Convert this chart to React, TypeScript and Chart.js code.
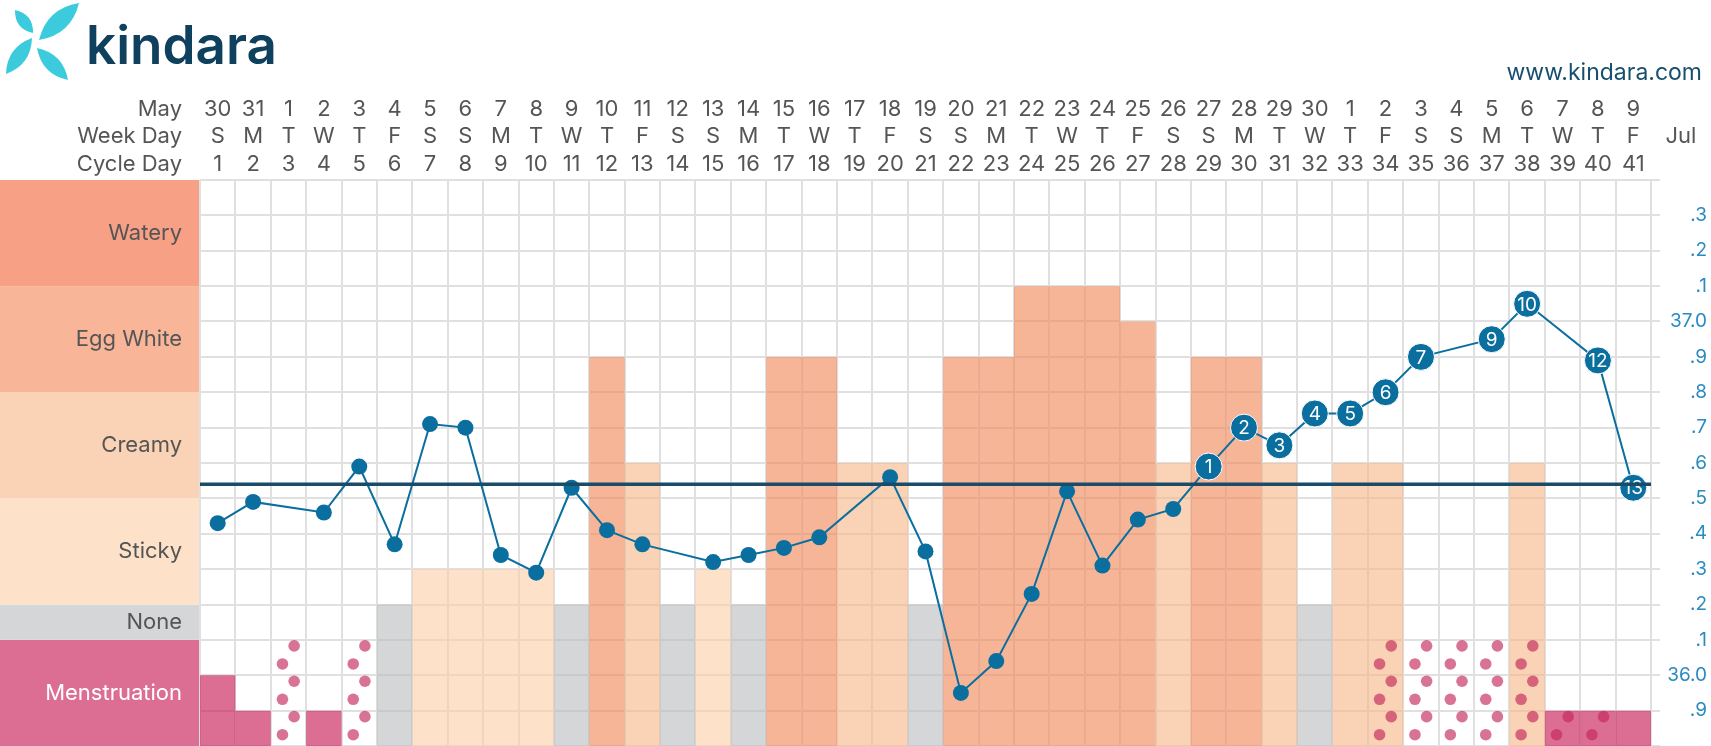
import React, { useEffect, useRef } from 'react';
import { Chart, registerables } from 'chart.js';

Chart.register(...registerables);

// ---------- data ----------
const monthLabel = 'May';
const nextMonthLabel = 'Jul';
const rowTitles = ['Week Day', 'Cycle Day'];

const dates = ['30','31','1','2','3','4','5','6','7','8','9','10','11','12','13','14','15','16','17','18','19','20','21','22','23','24','25','26','27','28','29','30','1','2','3','4','5','6','7','8','9'];
const weekDays = ['S','M','T','W','T','F','S','S','M','T','W','T','F','S','S','M','T','W','T','F','S','S','M','T','W','T','F','S','S','M','T','W','T','F','S','S','M','T','W','T','F'];
const cycleDays = ['1','2','3','4','5','6','7','8','9','10','11','12','13','14','15','16','17','18','19','20','21','22','23','24','25','26','27','28','29','30','31','32','33','34','35','36','37','38','39','40','41'];

// basal body temperature (°C), null = not recorded
const temps = [36.43, 36.49, null, 36.46, 36.59, 36.37, 36.71, 36.70, 36.34, 36.29,
  36.53, 36.41, 36.37, null, 36.32, 36.34, 36.36, 36.39, null, 36.56,
  36.35, 35.95, 36.04, 36.23, 36.52, 36.31, 36.44, 36.47, 36.59, 36.70,
  36.65, 36.74, 36.74, 36.80, 36.90, null, 36.95, 37.05, null, 36.89, 36.53];

// numbers shown in the post-ovulation temperature circles
const postOvulationLabels = [null, null, null, null, null, null, null, null, null, null,
  null, null, null, null, null, null, null, null, null, null,
  null, null, null, null, null, null, null, null, 1, 2,
  3, 4, 5, 6, 7, 8, 9, 10, 11, 12, 13];

const coverLine = 36.54;

// cervical fluid type and amount (in grid rows from the bottom)
const fluidTypes = ['', '', '', '', '', 'None', 'Sticky', 'Sticky', 'Sticky', 'Sticky',
  'None', 'Egg White', 'Creamy', 'None', 'Sticky', 'None', 'Egg White', 'Egg White', 'Creamy', 'Creamy',
  'None', 'Egg White', 'Egg White', 'Egg White', 'Egg White', 'Egg White', 'Egg White', 'Creamy', 'Egg White', 'Egg White',
  'Creamy', 'None', 'Creamy', 'Creamy', '', '', '', 'Creamy', '', '', ''];
const fluidAmounts = [0, 0, 0, 0, 0, 4, 5, 5, 5, 5,
  4, 11, 8, 4, 5, 4, 11, 11, 8, 8,
  4, 11, 11, 13, 13, 13, 12, 8, 11, 11,
  8, 4, 8, 8, 0, 0, 0, 8, 0, 0, 0];

// menstruation flow (rows) and spotting (rows of dots)
const menstruation = [2, 1, 0, 1, 0, 0, 0, 0, 0, 0,
  0, 0, 0, 0, 0, 0, 0, 0, 0, 0,
  0, 0, 0, 0, 0, 0, 0, 0, 0, 0,
  0, 0, 0, 0, 0, 0, 0, 0, 1, 1, 1];
const spotting = [0, 0, 3, 0, 3, 0, 0, 0, 0, 0,
  0, 0, 0, 0, 0, 0, 0, 0, 0, 0,
  0, 0, 0, 0, 0, 0, 0, 0, 0, 0,
  0, 0, 0, 3, 3, 3, 3, 3, 1, 1, 0];

// left legend bands (bottom to top) and their heights in rows
const fluidBands = ['Menstruation', 'None', 'Sticky', 'Creamy', 'Egg White', 'Watery'];
const fluidBandRows = [3, 1, 3, 3, 3, 3];

// ---------- styles ----------
const FONT = "Inter, 'Noto Sans', sans-serif";
const panelColors: Record<string, string> = {
  Watery: '#f8a086', 'Egg White': '#f8b598', Creamy: '#fad2b5', Sticky: '#fde1c9', None: '#d5d6d8', Menstruation: '#dc6e93',
};
const barColors: Record<string, string> = {
  Watery: 'rgba(243,97,53,0.6)', 'Egg White': 'rgba(242,132,83,0.6)', Creamy: 'rgba(247,180,132,0.6)',
  Sticky: 'rgba(252,205,165,0.6)', None: 'rgba(185,187,190,0.6)', Menstruation: 'rgba(197,13,75,0.6)',
};
const tempBlue = '#0a6e9f';
const spotColor = 'rgba(196,40,90,0.65)';

function leaf(ctx: CanvasRenderingContext2D, x1: number, y1: number, x2: number, y2: number, w: number) {
  const dx = x2 - x1, dy = y2 - y1;
  const len = Math.hypot(dx, dy);
  const nx = -dy / len, ny = dx / len;
  const mx = (x1 + x2) / 2, my = (y1 + y2) / 2;
  ctx.beginPath();
  ctx.moveTo(x1, y1);
  ctx.quadraticCurveTo(mx + nx * w * 2, my + ny * w * 2, x2, y2);
  ctx.quadraticCurveTo(mx - nx * w * 2, my - ny * w * 2, x1, y1);
  ctx.closePath();
  ctx.fill();
}

const decorPlugin = {
  id: 'decor',
  beforeDraw(chart: any) {
    const { ctx, chartArea, scales } = chart;
    const y = scales.y;
    ctx.save();
    ctx.fillStyle = '#ffffff';
    ctx.fillRect(0, 0, chart.width, chart.height);

    // legend panel
    let start = 0;
    ctx.font = `22px ${FONT}`;
    ctx.textAlign = 'right';
    ctx.textBaseline = 'middle';
    fluidBands.forEach((name, i) => {
      const end = start + fluidBandRows[i];
      const yTop = y.getPixelForValue(end);
      const yBot = y.getPixelForValue(start);
      ctx.fillStyle = panelColors[name];
      ctx.fillRect(0, yTop, chartArea.left, yBot - yTop);
      ctx.fillStyle = name === 'Menstruation' ? '#ffffff' : '#555555';
      ctx.fillText(name, chartArea.left - 18, (yTop + yBot) / 2);
      start = end;
    });

    // header row titles
    const lh = 27.5;
    const base = scales.x.bottom - 2;
    ctx.fillStyle = '#555555';
    const titles = [monthLabel, ...rowTitles];
    titles.forEach((t, i) => ctx.fillText(t, chartArea.left - 18, base - (2.5 - i) * lh));
    ctx.textAlign = 'center';
    ctx.fillText(nextMonthLabel, (chartArea.right + chart.width) / 2, base - 1.5 * lh);

    // logo
    ctx.fillStyle = '#3ccbdc';
    leaf(ctx, 15, 10, 33, 33, 6);
    leaf(ctx, 39, 40, 79, 3, 9);
    leaf(ctx, 32, 38, 6, 74, 7.5);
    leaf(ctx, 37, 48, 68, 80, 7.5);
    ctx.fillStyle = '#0f405d';
    ctx.textAlign = 'left';
    ctx.textBaseline = 'alphabetic';
    ctx.font = `600 53px ${FONT}`;
    ctx.fillText('kindara', 86, 64);

    ctx.fillStyle = '#17506f';
    ctx.textAlign = 'right';
    ctx.font = `23px ${FONT}`;
    ctx.fillText('www.kindara.com', 1702, 80);
    ctx.restore();
  },
  beforeDatasetDraw(chart: any, args: any) {
    // spotting dots: drawn over the bars, under the temperature line
    if (args.index !== 0) return;
    const { ctx, scales } = chart;
    const x = scales.x, y = scales.y;
    const colW = x.getPixelForValue(1) - x.getPixelForValue(0);
    ctx.save();
    ctx.fillStyle = spotColor;
    spotting.forEach((n, i) => {
      const cx = x.getPixelForValue(i);
      for (let r = 0; r < n; r++) {
        const pts = [[cx + 0.16 * colW, y.getPixelForValue(r + 0.83)], [cx - 0.17 * colW, y.getPixelForValue(r + 0.32)]];
        pts.forEach(([px, py]) => {
          ctx.beginPath();
          ctx.arc(px, py, 5.8, 0, Math.PI * 2);
          ctx.fill();
        });
      }
    });
    ctx.restore();
  },
  afterDatasetsDraw(chart: any) {
    const { ctx, chartArea, scales } = chart;
    ctx.save();
    const meta = chart.getDatasetMeta(0);
    ctx.fillStyle = '#ffffff';
    ctx.font = `19px ${FONT}`;
    ctx.textAlign = 'center';
    ctx.textBaseline = 'middle';
    meta.data.forEach((pt: any, i: number) => {
      const lab = postOvulationLabels[i];
      if (lab != null && temps[i] != null) ctx.fillText(String(lab), pt.x, pt.y + 1);
    });
    const yy = scales.yT.getPixelForValue(coverLine);
    ctx.strokeStyle = '#1a4b68';
    ctx.lineWidth = 3.5;
    ctx.beginPath();
    ctx.moveTo(chartArea.left, yy);
    ctx.lineTo(chartArea.right, yy);
    ctx.stroke();
    ctx.restore();
  },
};

export default function App() {
  const canvasRef = useRef<HTMLCanvasElement | null>(null);

  useEffect(() => {
    document.body.style.margin = '0';
    const canvas = canvasRef.current;
    if (!canvas) return;
    Chart.defaults.font.family = FONT;

    const isLabeled = (i: number) => postOvulationLabels[i] != null;

    const chart = new Chart(canvas, {
      type: 'bar',
      data: {
        labels: dates.map((d, i) => [d, weekDays[i], cycleDays[i]]),
        datasets: [
          {
            type: 'line',
            label: 'Temperature',
            data: temps,
            xAxisID: 'x',
            yAxisID: 'yT',
            order: 0,
            borderColor: tempBlue,
            borderWidth: 2,
            spanGaps: true,
            tension: 0,
            clip: false,
            pointRadius: temps.map((_, i) => (isLabeled(i) ? 13.5 : 8)),
            pointBackgroundColor: tempBlue,
            pointBorderColor: '#ffffff',
            pointBorderWidth: temps.map((_, i) => (isLabeled(i) ? 1 : 0)),
            segment: {
              borderColor: (c: any) => (c.p1DataIndex - c.p0DataIndex > 1 ? '#8c8c8c' : undefined),
              borderDash: (c: any) => (c.p1DataIndex - c.p0DataIndex > 1 ? [7, 5] : undefined),
              borderWidth: (c: any) => (c.p1DataIndex - c.p0DataIndex > 1 ? 2.5 : undefined),
            },
          } as any,
          {
            type: 'bar',
            label: 'Menstruation',
            data: menstruation.map((v) => (v ? v : null)),
            xAxisID: 'x',
            yAxisID: 'y',
            order: 2,
            grouped: false,
            barPercentage: 1,
            categoryPercentage: 1,
            borderWidth: 0,
            inflateAmount: 0,
            backgroundColor: barColors.Menstruation,
          } as any,
          {
            type: 'bar',
            label: 'Cervical fluid',
            data: fluidAmounts.map((v) => (v ? v : null)),
            xAxisID: 'x',
            yAxisID: 'y',
            order: 3,
            grouped: false,
            barPercentage: 1,
            categoryPercentage: 1,
            borderWidth: 0,
            inflateAmount: 0,
            backgroundColor: fluidTypes.map((t) => barColors[t] || 'rgba(0,0,0,0)'),
          } as any,
        ],
      },
      options: {
        responsive: false,
        animation: false,
        events: [],
        layout: { autoPadding: false, padding: { left: 200, right: 4, top: 0, bottom: 0 } },
        plugins: { legend: { display: false }, tooltip: { enabled: false } },
        scales: {
          x: {
            type: 'category',
            position: 'top',
            offset: true,
            grid: { offset: true, color: '#e0e0e0', lineWidth: 2, drawTicks: false },
            border: { display: false },
            ticks: {
              autoSkip: false,
              maxRotation: 0,
              minRotation: 0,
              padding: 2,
              color: '#555555',
              font: { size: 22, lineHeight: 1.25 },
            },
            afterFit: (s: any) => { s.height = 180; s.paddingLeft = 0; s.paddingRight = 0; },
          },
          y: { type: 'linear', min: 0, max: 16, display: false },
          yT: {
            type: 'linear',
            position: 'right',
            min: 35.8,
            max: 37.4,
            grid: { color: '#e0e0e0', lineWidth: 2, tickLength: 9, drawTicks: true },
            border: { display: false },
            ticks: {
              stepSize: 0.1,
              padding: 0,
              crossAlign: 'far',
              color: '#2a8bc2',
              font: { size: 19 },
              callback: (value: any) => {
                const v = Math.round(Number(value) * 10);
                if (v === 358 || v === 374) return '';
                const d = v % 10;
                return d === 0 ? (v / 10).toFixed(1) : '.' + d;
              },
            },
            afterFit: (s: any) => { s.width = 56; s.paddingTop = 0; s.paddingBottom = 0; },
          },
        },
      } as any,
      plugins: [decorPlugin],
    });

    return () => chart.destroy();
  }, []);

  return (
    <div style={{ position: 'absolute', left: 0, top: 0, width: 1711, height: 746 }}>
      <canvas ref={canvasRef} width={1711} height={746} style={{ display: 'block' }} />
    </div>
  );
}
